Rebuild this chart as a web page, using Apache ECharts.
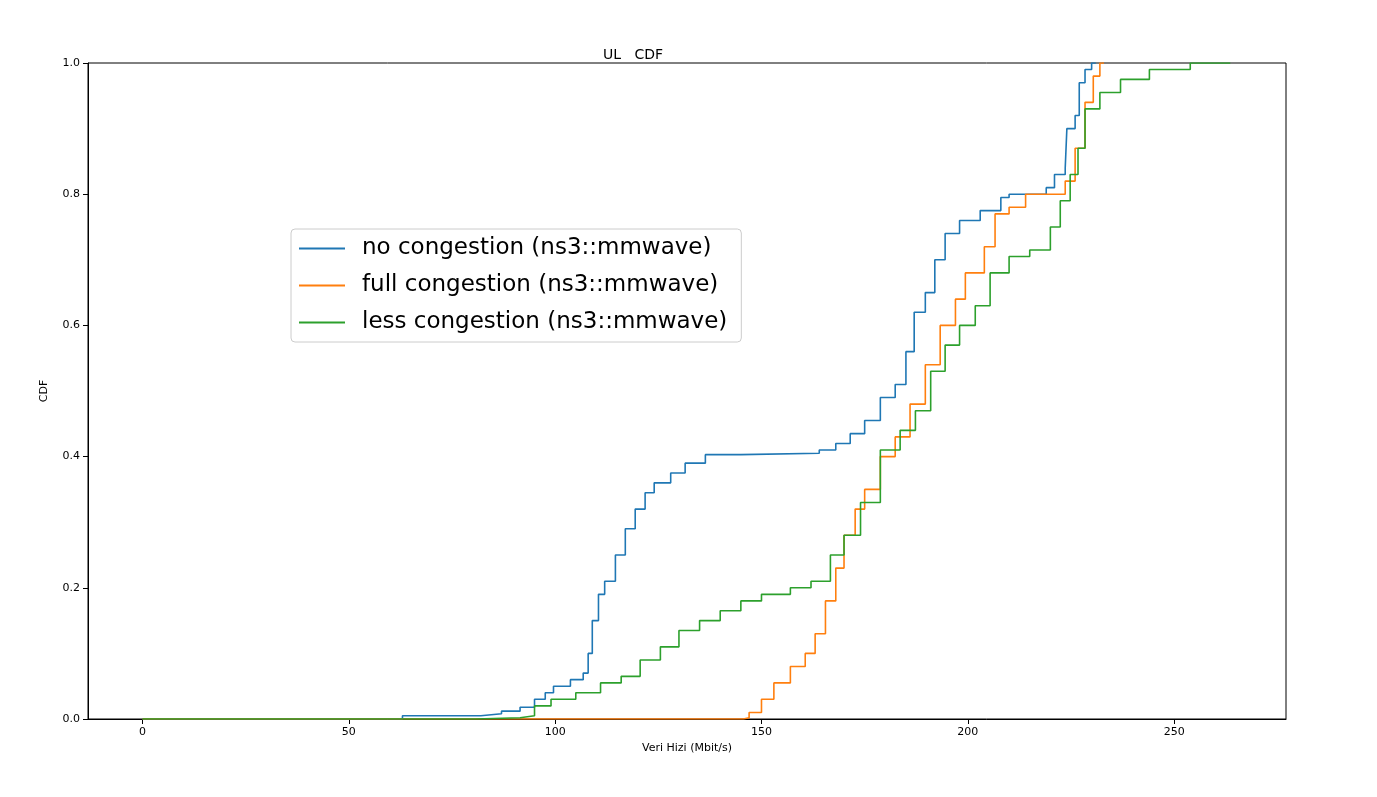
<!DOCTYPE html>
<html><head><meta charset="utf-8">
<script src="https://cdn.jsdelivr.net/npm/echarts@6/dist/echarts.min.js"></script>
<style>html,body{margin:0;padding:0;background:#fff}#c{width:1377px;height:797px}</style>
</head><body><div id="c"></div>
<script>
var seriesNames = ['no congestion (ns3::mmwave)', 'full congestion (ns3::mmwave)', 'less congestion (ns3::mmwave)'];
var colors = ['#1f77b4', '#ff7f0e', '#2ca02c'];
var xTicks = [0, 50, 100, 150, 200, 250];

var noCong = [[0,0],[63,0.005],[82,0.008],[87,0.012],[91.5,0.018],[95,0.03],[97.6,0.04],[99.6,0.05],[103.7,0.06],[106.8,0.07],[108,0.1],[109,0.15],[110.5,0.19],[112,0.21],[114.6,0.25],[117,0.29],[119.4,0.32],[121.8,0.345],[124,0.36],[128,0.375],[131.5,0.39],[136.4,0.403],[145,0.405],[164,0.41],[168,0.42],[171.5,0.435],[175,0.455],[178.8,0.49],[182.4,0.51],[185,0.56],[187,0.62],[189.7,0.65],[192,0.7],[194.5,0.74],[198,0.76],[203,0.775],[208,0.795],[210,0.8],[216,0.8],[219,0.81],[221,0.83],[223.6,0.84],[224,0.9],[226,0.92],[227,0.97],[228.4,0.99],[230,1.0],[231,1.0]];
var fullCong = [[0,0],[145.6,0.002],[147,0.01],[150,0.03],[153,0.055],[157,0.08],[160.6,0.1],[163,0.13],[165.5,0.18],[168,0.23],[170,0.28],[172.7,0.32],[175,0.35],[178.8,0.4],[182.4,0.43],[186,0.48],[189.7,0.54],[193.3,0.6],[197,0.64],[199.4,0.68],[204,0.72],[206.6,0.77],[210,0.78],[214,0.8],[221,0.8],[223.6,0.82],[226,0.87],[228.4,0.94],[230.4,0.98],[232,1.0],[233,1.0]];
var lessCong = [[0,0],[80.7,0.002],[91.5,0.005],[95,0.02],[99,0.03],[105,0.04],[111,0.055],[116,0.065],[120.6,0.09],[125.5,0.11],[130,0.135],[135,0.15],[140,0.165],[145,0.18],[150,0.19],[157,0.2],[162,0.21],[166.7,0.25],[170,0.28],[174,0.33],[178.8,0.41],[183.6,0.44],[187.3,0.47],[191,0.53],[194.5,0.57],[198,0.6],[201.8,0.63],[205.4,0.68],[210,0.705],[215,0.715],[220,0.75],[222.4,0.79],[224.8,0.83],[226.7,0.87],[228.4,0.93],[232,0.955],[237,0.975],[244,0.99],[253.9,1.0],[263.6,1.0]];

var chart = echarts.init(document.getElementById('c'));
var data = [noCong, fullCong, lessCong];
chart.setOption({
    animation: false,
    title: {text: 'UL   CDF', left: 598, top: 43, textStyle: {fontSize: 14, fontWeight: 'normal', color: '#000', fontFamily: 'DejaVu Sans'}},
    legend: {
        orient: 'vertical', left: 291, top: 229, padding: [8, 14, 8, 8],
        itemWidth: 46, itemHeight: 2, itemGap: 14, icon: 'rect',
        backgroundColor: '#fff', borderColor: '#ccc', borderWidth: 1, borderRadius: 4,
        textStyle: {fontSize: 23, color: '#000', fontFamily: 'DejaVu Sans', padding: [0, 0, 0, 12]},
        data: seriesNames
    },
    grid: {left: 88, right: 91, top: 63, bottom: 78, show: true, borderColor: '#000', borderWidth: 1},
    xAxis: {
        type: 'value', min: -13.2, max: 277.1, name: 'Veri Hizi (Mbit/s)', nameLocation: 'middle', nameGap: 24,
        nameTextStyle: {fontSize: 11, color: '#000', fontFamily: 'DejaVu Sans'},
        splitLine: {show: false},
        axisLine: {onZero: false, lineStyle: {color: '#000'}},
        axisLabel: {color: '#000', fontSize: 11, fontFamily: 'DejaVu Sans', customValues: xTicks},
        axisTick: {customValues: xTicks, lineStyle: {color: '#000'}}
    },
    yAxis: {
        type: 'value', min: 0, max: 1, interval: 0.2, name: 'CDF', nameLocation: 'middle', nameGap: 38,
        nameTextStyle: {fontSize: 11, color: '#000', fontFamily: 'DejaVu Sans'},
        splitLine: {show: false},
        axisLine: {show: true, onZero: false, lineStyle: {color: '#000'}},
        axisTick: {show: true, lineStyle: {color: '#000'}},
        axisLabel: {color: '#000', fontSize: 11, fontFamily: 'DejaVu Sans', formatter: function (v) { return v.toFixed(1); }}
    },
    series: data.map(function (d, i) {
        return {name: seriesNames[i], type: 'line', step: 'end', data: d, showSymbol: false,
            color: colors[i], lineStyle: {width: 1.6, color: colors[i]}};
    })
});
</script></body></html>
